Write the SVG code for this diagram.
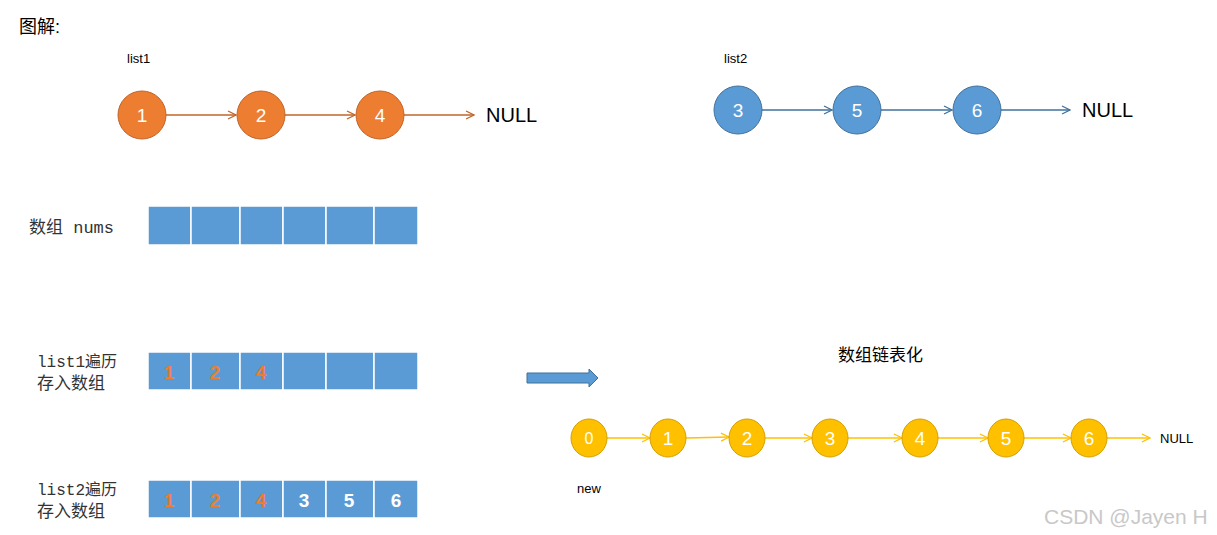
<svg xmlns="http://www.w3.org/2000/svg" width="1217" height="535" viewBox="0 0 1217 535">
<style>
.o{fill:#ed7d31;stroke:#c0652a;stroke-width:1}
.b{fill:#5b9bd5;stroke:#41719c;stroke-width:1}
.y{fill:#ffc000;stroke:#d4a000;stroke-width:1}
.cell{fill:#5b9bd5;stroke:#fff;stroke-width:1.5}
.w{font-family:"Liberation Sans",sans-serif;fill:#fff;text-anchor:middle}
.t{font-family:"Liberation Sans","Noto Sans CJK SC",sans-serif;fill:#000}
.s{font-family:"Liberation Mono","Noto Sans CJK SC",monospace;fill:#333;font-size:17px}
.ao{stroke:#c0652a;stroke-width:1.3;fill:none}
.ab{stroke:#41719c;stroke-width:1.3;fill:none}
.ay{stroke:#ffc000;stroke-width:1.3;fill:none}
.ov{font-family:"Liberation Sans",sans-serif;font-weight:bold;fill:#ed7d31;font-size:19px;text-anchor:middle}
.wv{font-family:"Liberation Sans",sans-serif;font-weight:bold;fill:#fff;font-size:19px;text-anchor:middle}
</style>
<defs>
<marker id="mo" markerWidth="10" markerHeight="10" refX="9" refY="5" orient="auto" markerUnits="userSpaceOnUse"><path d="M1,1 L9,5 L1,9" fill="none" stroke="#c0652a" stroke-width="1.3"/></marker>
<marker id="mb" markerWidth="10" markerHeight="10" refX="9" refY="5" orient="auto" markerUnits="userSpaceOnUse"><path d="M1,1 L9,5 L1,9" fill="none" stroke="#41719c" stroke-width="1.3"/></marker>
<marker id="my" markerWidth="10" markerHeight="10" refX="9" refY="5" orient="auto" markerUnits="userSpaceOnUse"><path d="M1,1 L9,5 L1,9" fill="none" stroke="#ffc000" stroke-width="1.3"/></marker>
</defs>
<rect width="1217" height="535" fill="#fff"/>
<text x="19" y="33" class="t" font-size="18" fill="#333">图解:</text>
<text x="127" y="63" class="t" font-size="13">list1</text>
<text x="724" y="63" class="t" font-size="13">list2</text>
<g id="connectors">
<line x1="166" y1="115" x2="236" y2="115" class="ao" marker-end="url(#mo)"/>
<line x1="285" y1="115" x2="355" y2="115" class="ao" marker-end="url(#mo)"/>
<line x1="404" y1="115" x2="474" y2="115" class="ao" marker-end="url(#mo)"/>
<line x1="762" y1="110" x2="832" y2="110" class="ab" marker-end="url(#mb)"/>
<line x1="881" y1="110" x2="952" y2="110" class="ab" marker-end="url(#mb)"/>
<line x1="1001" y1="110" x2="1070" y2="110" class="ab" marker-end="url(#mb)"/>
<line x1="607" y1="438" x2="650" y2="438" class="ay" marker-end="url(#my)"/>
<line x1="686" y1="438" x2="729" y2="437" class="ay" marker-end="url(#my)"/>
<line x1="765" y1="438" x2="812" y2="438" class="ay" marker-end="url(#my)"/>
<line x1="848" y1="438" x2="902" y2="438" class="ay" marker-end="url(#my)"/>
<line x1="938" y1="438" x2="988" y2="438" class="ay" marker-end="url(#my)"/>
<line x1="1024" y1="438" x2="1071" y2="438" class="ay" marker-end="url(#my)"/>
<line x1="1107" y1="438" x2="1150" y2="438" class="ay" marker-end="url(#my)"/>
</g>
<g id="l1n1"><circle cx="142" cy="115" r="24" class="o"/><text x="142" y="122" class="w" font-size="19">1</text></g>
<g id="l1n2"><circle cx="261" cy="115" r="24" class="o"/><text x="261" y="122" class="w" font-size="19">2</text></g>
<g id="l1n4"><circle cx="380" cy="115" r="24" class="o"/><text x="380" y="122" class="w" font-size="19">4</text></g>
<text x="486" y="122" class="t" font-size="20">NULL</text>
<g id="l2n3"><circle cx="738" cy="110" r="24" class="b"/><text x="738" y="117" class="w" font-size="19">3</text></g>
<g id="l2n5"><circle cx="857" cy="110" r="24" class="b"/><text x="857" y="117" class="w" font-size="19">5</text></g>
<g id="l2n6"><circle cx="977" cy="110" r="24" class="b"/><text x="977" y="117" class="w" font-size="19">6</text></g>
<text x="1082" y="117" class="t" font-size="20">NULL</text>
<text x="29" y="233" class="s" font-size="16">数组 nums</text>
<g id="arr0">
<rect x="148" y="206" width="43" height="39" class="cell"/><rect x="191" y="206" width="49" height="39" class="cell"/><rect x="240" y="206" width="43" height="39" class="cell"/><rect x="283" y="206" width="43" height="39" class="cell"/><rect x="326" y="206" width="48" height="39" class="cell"/><rect x="374" y="206" width="44" height="39" class="cell"/>
</g>
<text x="37" y="367" class="s" style="font-size:16px">list1遍历</text>
<text x="37" y="389" class="s">存入数组</text>
<g id="arr1">
<rect x="148" y="352" width="43" height="38" class="cell"/><rect x="191" y="352" width="49" height="38" class="cell"/><rect x="240" y="352" width="43" height="38" class="cell"/><rect x="283" y="352" width="43" height="38" class="cell"/><rect x="326" y="352" width="48" height="38" class="cell"/><rect x="374" y="352" width="44" height="38" class="cell"/>
<text x="169" y="379" class="ov">1</text><text x="215" y="379" class="ov">2</text><text x="261" y="379" class="ov">4</text>
</g>
<text x="37" y="495" class="s" style="font-size:16px">list2遍历</text>
<text x="37" y="517" class="s">存入数组</text>
<g id="arr2">
<rect x="148" y="480" width="43" height="38" class="cell"/><rect x="191" y="480" width="49" height="38" class="cell"/><rect x="240" y="480" width="43" height="38" class="cell"/><rect x="283" y="480" width="43" height="38" class="cell"/><rect x="326" y="480" width="48" height="38" class="cell"/><rect x="374" y="480" width="44" height="38" class="cell"/>
<text x="169" y="507" class="ov">1</text><text x="215" y="507" class="ov">2</text><text x="261" y="507" class="ov">4</text>
<text x="304" y="507" class="wv">3</text><text x="349" y="507" class="wv">5</text><text x="396" y="507" class="wv">6</text>
</g>
<g id="bigarrow"><path d="M527,373 H589 V369 L598,378 L589,387 V383 H527 Z" fill="#5b9bd5" stroke="#41719c" stroke-width="1"/></g>
<text x="838" y="361" class="t" font-size="17" fill="#333">数组链表化</text>
<g id="y0"><ellipse cx="589" cy="438" rx="18" ry="19" class="y"/><text x="589" y="444" class="w" font-size="16">0</text></g>
<g id="y1"><ellipse cx="668" cy="438" rx="18" ry="19" class="y"/><text x="668" y="445" class="w" font-size="19">1</text></g>
<g id="y2"><ellipse cx="747" cy="438" rx="18" ry="19" class="y"/><text x="747" y="445" class="w" font-size="19">2</text></g>
<g id="y3"><ellipse cx="830" cy="438" rx="18" ry="19" class="y"/><text x="830" y="445" class="w" font-size="19">3</text></g>
<g id="y4"><ellipse cx="920" cy="438" rx="18" ry="19" class="y"/><text x="920" y="445" class="w" font-size="19">4</text></g>
<g id="y5"><ellipse cx="1006" cy="438" rx="18" ry="19" class="y"/><text x="1006" y="445" class="w" font-size="19">5</text></g>
<g id="y6"><ellipse cx="1089" cy="438" rx="18" ry="19" class="y"/><text x="1089" y="445" class="w" font-size="19">6</text></g>
<text x="1160" y="443" class="t" font-size="13">NULL</text>
<text x="577" y="493" class="t" font-size="13">new</text>
<text x="1044" y="524" font-family="Liberation Sans,sans-serif" font-size="21" fill="#c8c8c8">CSDN @Jayen H</text>
</svg>
